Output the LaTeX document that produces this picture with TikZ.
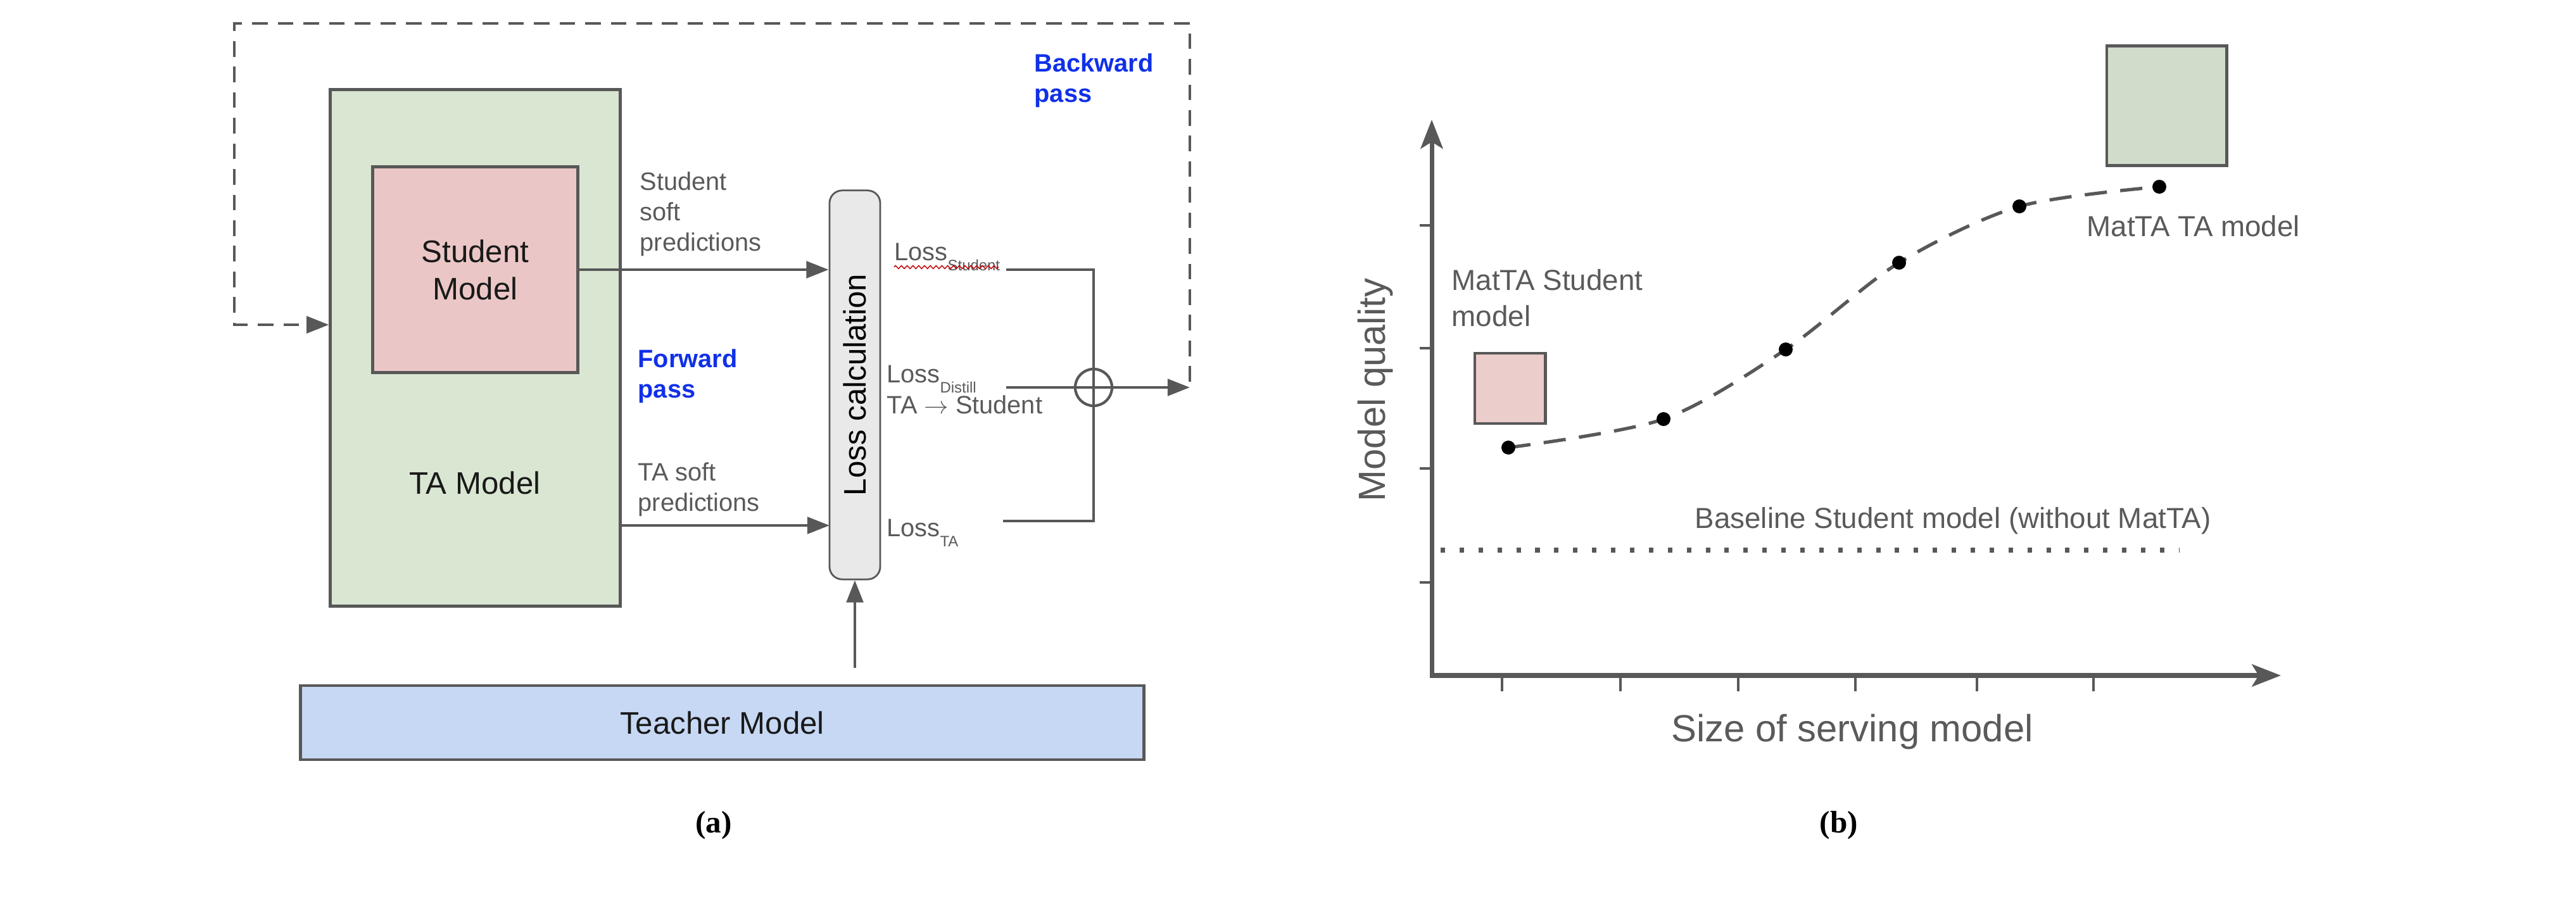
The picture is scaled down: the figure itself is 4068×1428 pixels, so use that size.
\documentclass[tikz,border=0pt]{standalone}
\usepackage{fontspec}
\setmainfont{Liberation Sans}
\newfontfamily\capfont{Liberation Serif}
\usetikzlibrary{positioning}
\usetikzlibrary{arrows.meta,shapes}
\usetikzlibrary{calc}
\usetikzlibrary{decorations.pathmorphing}

\definecolor{linegray}{HTML}{585858}
\definecolor{textgray}{HTML}{5A5A5A}
\definecolor{tagreen}{HTML}{D9E6D2}
\definecolor{stupink}{HTML}{EAC7C6}
\definecolor{teachblue}{HTML}{C7D8F4}
\definecolor{lossgray}{HTML}{E9E9E9}
\definecolor{passblue}{HTML}{1030E8}
\definecolor{ptgreen}{HTML}{D1DDCA}
\definecolor{ptpink}{HTML}{EBCDCC}

\tikzstyle{modelbox}=[rectangle,draw=linegray,line width=1.4pt,inner sep=0pt,text=black!90,font=\fontsize{14}{16.8}\selectfont,align=center]
\tikzstyle{fwd}=[-{Triangle[length=10pt,width=7.5pt]},linegray,line width=1.3pt]
\tikzstyle{bwd}=[-{Triangle[length=10pt,width=7.5pt]},linegray,line width=1.4pt,dash pattern=on 7pt off 4.5pt]
\tikzstyle{wire}=[linegray,line width=1.3pt]
\tikzstyle{sidetext}=[textgray,inner sep=0pt,align=left,font=\fontsize{11.3}{13.7}\selectfont]
\tikzstyle{passtext}=[passblue,inner sep=0pt,align=left,font=\fontsize{11.3}{13.7}\selectfont\bfseries]
\tikzstyle{squiggle}=[red!75!black,line width=0.4pt,decorate,decoration={zigzag,segment length=2.6pt,amplitude=0.7pt}]
\tikzstyle{axis}=[{Stealth[length=13pt,width=10pt,inset=3pt]}-{Stealth[length=13pt,width=10pt,inset=3pt]},linegray,line width=2pt]
\tikzstyle{tickmark}=[linegray,line width=1.2pt]
\tikzstyle{curve}=[linegray,line width=1.5pt,dash pattern=on 10pt off 6pt]
\tikzstyle{dotline}=[linegray,line width=2pt,dash pattern=on 2pt off 6.5pt]
\tikzstyle{plottext}=[textgray,inner sep=0pt,align=left,font=\fontsize{13}{16}\selectfont]
\tikzstyle{bigtext}=[textgray,inner sep=0pt,font=\fontsize{17}{20}\selectfont]
\tikzstyle{caption}=[inner sep=0pt,font=\capfont\bfseries\fontsize{14}{17}\selectfont]

\newcommand{\losssub}[1]{\raisebox{-4.5pt}[0pt][0pt]{\fontsize{6.8}{8}\selectfont #1}}

\begin{document}
\begin{tikzpicture}[x=0.01cm,y=-0.01cm]
\useasboundingbox (0,0) rectangle (4068,1428);

%(a) models and loss
\node[modelbox,fill=tagreen,minimum width=4.57cm,minimum height=8.15cm] (ta) at (750.5,549.5) {};
\node[modelbox,fill=stupink,minimum width=3.23cm,minimum height=3.24cm] (student) at (750.5,426) {Student\\Model};
\node[text=black!90,font=\fontsize{14}{17}\selectfont] (talabel) at (750,763) {TA Model};
\node[modelbox,fill=teachblue,minimum width=13.31cm,minimum height=1.17cm] (teacher) at (1140.5,1141.5) {Teacher Model};
\node[draw=linegray,line width=0.8pt,fill=lossgray,rounded corners=0.2cm,minimum width=0.8cm,minimum height=6.14cm] (loss) at (1350,608) {};
\node[rotate=90,text=black,font=\fontsize{14}{17}\selectfont] (losstext) at (loss.center) {Loss calculation};

\node[sidetext,anchor=north west] (stupred) at (1010,271) {Student\\soft\\predictions};
\node[sidetext,anchor=north west] (tapred) at (1007,730) {TA soft\\predictions};
\node[passtext,anchor=north west] (fwdpass) at (1007,551) {Forward\\pass};
\node[passtext,anchor=north west] (bwdpass) at (1633,84) {Backward\\pass};

\node[sidetext,anchor=base west] (lstu) at (1412,412) {Loss\losssub{Student}};
\node[sidetext,anchor=base west] (ldistill) at (1400,605) {Loss\losssub{Distill}};
\node[sidetext,anchor=base west] (ldir) at (1400,654) {TA $\rightarrow$ Student};
\node[sidetext,anchor=base west] (lta) at (1400,848) {Loss\losssub{TA}};
\draw[squiggle] ([yshift=-0.1cm]lstu.base west) -- ([yshift=-0.1cm,xshift=1.65cm]lstu.base west);

%forward pass
\coordinate (tain) at (1310,830);
\draw[fwd] (student.east) -- (student.east -| loss.west);
\draw[fwd] (ta.east |- tain) -- (tain);
\draw[fwd] ([yshift=0.25cm]teacher.north -| loss.south) -- (loss.south);

\node[draw=linegray,line width=1.2pt,circle,minimum size=0.58cm,inner sep=0pt] (sum) at (1727,612) {};
\coordinate (out1) at (1589,426);
\coordinate (out2) at (1589,612);
\coordinate (out3) at (1584,823);
\coordinate (bk) at (1879,612);
\draw[wire] (out1) -| (sum.center) |- (out3);
\draw[fwd] (out2) -- (bk);

%backward pass
\coordinate (looptop) at (370,37);
\coordinate (loopin) at (370,513);
\draw[bwd] ([yshift=0.09cm]bk) |- (looptop) |- (ta.west |- loopin);

%(b) quality vs size
\coordinate (O) at (2261,1067);
\coordinate (ytop) at (2261,189);
\coordinate (xend) at (3602,1067);
\draw[axis] (ytop) -- (O) -- (xend);
\foreach \ty in {356,550,740,920}
    \draw[tickmark] (2242,\ty) -- (2261,\ty);
\foreach \tx in {2372,2559,2745,2930,3122,3306}
    \draw[tickmark] (\tx,1067) -- (\tx,1092);

\coordinate (bl1) at (2275,869);
\coordinate (bl2) at (3441,869);
\draw[dotline] (bl1) -- (bl2);

\foreach \px/\py/\pname in {2382/707/p1, 2627/662/p2, 2820/552/p3, 2999/415/p4, 3189/326/p5, 3410/295/p6}
    \coordinate (\pname) at (\px,\py);
\draw[curve] plot[smooth] coordinates {(p1) (p2) (p3) (p4) (p5) (p6)};
\foreach \pname in {p1,p2,p3,p4,p5,p6}
    \fill[black] (\pname) circle[radius=0.11cm];

\node[modelbox,fill=ptpink,minimum width=1.11cm,minimum height=1.11cm] (smallstu) at (2384.5,613.5) {};
\node[modelbox,fill=ptgreen,minimum width=1.89cm,minimum height=1.88cm] (smallta) at (3421.5,167) {};

\node[plottext,anchor=north west] (stulab) at (2292,425) {MatTA Student\\model};
\node[plottext,anchor=base west] (talab) at (3295,374) {MatTA TA model};
\node[plottext,anchor=base west] (bllab) at (2676,835) {Baseline Student model (without MatTA)};
\node[bigtext,rotate=90,anchor=base] (ylab) at (2187,616) {Model quality};
\node[bigtext,anchor=base] (xlab) at (2925,1172) {Size of serving model};

\node[caption,anchor=base] (capa) at (1127,1315) {(a)};
\node[caption,anchor=base] (capb) at (2904,1315) {(b)};

\end{tikzpicture}
\end{document}
